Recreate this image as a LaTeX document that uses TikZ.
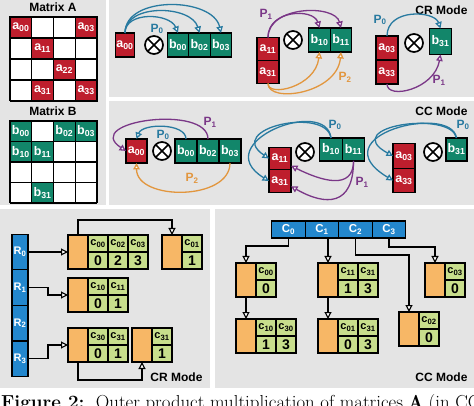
\documentclass[tikz,border=0pt]{standalone}
\usepackage{fontspec}
\newfontfamily\figfont{Liberation Sans}
\usetikzlibrary{arrows.meta, calc, positioning}

\definecolor{panelgray}{RGB}{228,228,228}
\definecolor{cellred}{RGB}{190,30,45}
\definecolor{cellteal}{RGB}{18,134,106}
\definecolor{arcblue}{RGB}{40,122,160}
\definecolor{arcpurple}{RGB}{122,55,135}
\definecolor{arcorange}{RGB}{226,150,62}
\definecolor{listblue}{RGB}{35,135,205}
\definecolor{ptrorange}{RGB}{247,183,102}
\definecolor{valgreen}{RGB}{200,222,140}

\tikzset{
	box/.style={draw, line width=1.1pt, inner sep=0pt, outer sep=0pt},
	acell/.style={box, fill=cellred, text=white, minimum width=22pt, minimum height=23pt, font=\figfont\bfseries\fontsize{12.5}{13}\selectfont},
	bcell/.style={box, fill=cellteal, text=white, minimum width=21.5pt, minimum height=24pt, font=\figfont\bfseries\fontsize{12.5}{13}\selectfont},
	mcell/.style={box, text=white, minimum width=21.75pt, minimum height=21pt, font=\figfont\bfseries\fontsize{12.5}{13}\selectfont},
	prodsym/.style={circle, draw, line width=1.7pt, fill=white, minimum size=18pt, inner sep=0pt,
		path picture={\draw[line width=1.7pt] (path picture bounding box.north west) -- (path picture bounding box.south east)
			(path picture bounding box.north east) -- (path picture bounding box.south west);}},
	p0arc/.style={draw=arcblue, line width=1.3pt, -{Triangle[fill=white, width=6.5pt, length=6.5pt]}},
	p1arc/.style={p0arc, draw=arcpurple},
	p2arc/.style={p0arc, draw=arcorange},
	plabel/.style={font=\figfont\bfseries\fontsize{12}{13}\selectfont},
	modelabel/.style={anchor=east, font=\figfont\bfseries\fontsize{12}{14}\selectfont},
	obox/.style={box, fill=ptrorange, minimum width=20pt, minimum height=34pt},
	gtop/.style={box, fill=valgreen, minimum width=20pt, minimum height=17pt, font=\figfont\bfseries\fontsize{11}{12}\selectfont},
	gbot/.style={gtop, font=\figfont\bfseries\fontsize{14}{15}\selectfont},
	rcell/.style={box, fill=listblue, text=white, minimum width=16pt, minimum height=35.6pt, font=\figfont\bfseries\fontsize{11}{12}\selectfont},
	hcell/.style={box, fill=listblue, text=white, minimum width=33.5pt, minimum height=17pt, font=\figfont\bfseries\fontsize{11.5}{12}\selectfont},
	lnk/.style={draw, line width=1.1pt, -{Triangle[fill=white, width=7pt, length=7pt]}}
}

\newcommand{\listnode}[3]{%
	\node[obox, anchor=north west] (#1) at (#2) {};
	\foreach \lab/\val [count=\i] in {#3} {
		\node[gtop, anchor=north west] (#1t\i) at ($(#1.north east)+(20*\i-20,0)$) {c\textsubscript{\lab}};
		\node[gbot, anchor=north west] (#1b\i) at ($(#1.north east)+(20*\i-20,17)$) {\val};
	}
}

\begin{document}
\begin{tikzpicture}[x=1pt, y=-1pt]
			\fill[white] (0,0) rectangle (474,406);
			\useasboundingbox (0,0) rectangle (474,406);

			\begin{scope}[fill=panelgray]
				\fill (0,0) rectangle (106,205);
				\fill (109,0) rectangle (474,97);
				\fill (109,101) rectangle (474,205);
				\fill (0,209) rectangle (210,388);
				\fill (215,209) rectangle (474,388);
			\end{scope}

			% matrices
			\node[font=\figfont\bfseries\fontsize{12}{14}\selectfont] (titleA) at (53,7) {Matrix A};
			\fill[white] (10,17) rectangle (97,101);
			\foreach \r/\c in {0/0, 0/3, 1/1, 2/2, 3/1, 3/3}
				\node[mcell, fill=cellred] (ma\r\c) at (20.875+21.75*\c, 27.5+21*\r) {a\textsubscript{\r\c}};
			\foreach \i in {0,...,4} {
				\draw[line width=1.1pt] (10+21.75*\i,17) -- (10+21.75*\i,101);
				\draw[line width=1.1pt] (10,17+21*\i) -- (97,17+21*\i);
			}

			\node[font=\figfont\bfseries\fontsize{12}{14}\selectfont] (titleB) at (53,111) {Matrix B};
			\fill[white] (10,121) rectangle (97,203);
			\foreach \r/\c in {0/0, 0/2, 0/3, 1/0, 1/1, 3/1}
				\node[mcell, fill=cellteal, minimum height=20.5pt] (mb\r\c) at (20.875+21.75*\c, 131.25+20.5*\r) {b\textsubscript{\r\c}};
			\foreach \i in {0,...,4} {
				\draw[line width=1.1pt] (10+21.75*\i,121) -- (10+21.75*\i,203);
				\draw[line width=1.1pt] (10,121+20.5*\i) -- (97,121+20.5*\i);
			}

			% CR mode
			\node[modelabel] (crmode) at (471,10) {CR Mode};

			\node[acell, minimum width=19pt, minimum height=24pt] (cr-a00) at (125,45) {a\textsubscript{00}};
			\node[prodsym] (cr-x1) at (154,45) {};
			\node[bcell] (cr-b00) at (178,45) {b\textsubscript{00}};
			\node[bcell, right=0pt of cr-b00] (cr-b02) {b\textsubscript{02}};
			\node[bcell, right=0pt of cr-b02] (cr-b03) {b\textsubscript{03}};
			\draw[p0arc] (cr-a00.north) .. controls +(0,-22) and +(-8,-20) .. (cr-b00.north);
			\draw[p0arc] (cr-a00.north) .. controls +(0,-30) and +(-8,-28) .. (cr-b02.north);
			\draw[p0arc] (cr-a00.north) .. controls +(0,-38) and +(-8,-36) .. (cr-b03.north);
			\node[plabel, text=arcblue] (cr-p0a) at (157,29) {P\textsubscript{0}};

			\node[acell] (cr-a11) at (268,49) {a\textsubscript{11}};
			\node[acell, below=0pt of cr-a11] (cr-a31) {a\textsubscript{31}};
			\node[prodsym] (cr-x2) at (293,40) {};
			\node[bcell] (cr-b10) at (319.5,40) {b\textsubscript{10}};
			\node[bcell, right=0pt of cr-b10] (cr-b11) {b\textsubscript{11}};
			\draw[p1arc] (cr-a11.north) .. controls +(0,-28) and +(-6,-20) .. (cr-b10.north);
			\draw[p1arc] (cr-a11.north) .. controls +(0,-32) and +(-6,-24) .. (cr-b11.north);
			\draw[p2arc] (cr-a31.south) .. controls +(0,14) and +(-4,35) .. (cr-b10.south);
			\draw[p2arc] (cr-a31.south) .. controls +(0,20) and +(-4,42) .. (cr-b11.south);
			\node[plabel, text=arcpurple] (cr-p1a) at (266,14) {P\textsubscript{1}};
			\node[plabel, text=arcorange] (cr-p2) at (345,77) {P\textsubscript{2}};

			\node[acell, minimum height=24pt] (cr-a03) at (387,48) {a\textsubscript{03}};
			\node[acell, minimum height=24pt, below=0pt of cr-a03] (cr-a33) {a\textsubscript{33}};
			\node[prodsym] (cr-x3) at (414,43) {};
			\node[bcell, minimum width=22pt, minimum height=26pt] (cr-b31) at (440.5,41.5) {b\textsubscript{31}};
			\draw[p0arc] (cr-a03.north) .. controls +(0,-28) and +(-6,-18) .. (cr-b31.north);
			\draw[p1arc] (cr-a33.south) .. controls +(0,16) and +(-6,35) .. (cr-b31.south);
			\node[plabel, text=arcblue] (cr-p0b) at (380,20) {P\textsubscript{0}};
			\node[plabel, text=arcpurple] (cr-p1b) at (439,80) {P\textsubscript{1}};

			% CC mode
			\node[modelabel] (ccmode) at (471,111) {CC Mode};

			\node[acell, minimum width=21pt, minimum height=24pt] (cc-a00) at (136.5,151) {a\textsubscript{00}};
			\node[prodsym] (cc-x1) at (162,151) {};
			\node[bcell, minimum width=22pt] (cc-b00) at (186,151) {b\textsubscript{00}};
			\node[bcell, minimum width=22pt, right=0pt of cc-b00] (cc-b02) {b\textsubscript{02}};
			\node[bcell, minimum width=22pt, right=0pt of cc-b02] (cc-b03) {b\textsubscript{03}};
			\draw[p0arc] (cc-b00.north) .. controls +(0,-16) and +(6,-16) .. (cc-a00.north);
			\draw[p1arc] (cc-b02.north) .. controls +(0,-35) and +(-45,-30) .. (cc-a00.west);
			\draw[p2arc] (cc-b03.south) .. controls +(0,38) and +(0,38) .. (cc-a00.south);
			\node[plabel, text=arcblue] (cc-p0a) at (163,135) {P\textsubscript{0}};
			\node[plabel, text=arcpurple] (cc-p1a) at (210,122) {P\textsubscript{1}};
			\node[plabel, text=arcorange] (cc-p2) at (192,178) {P\textsubscript{2}};

			\node[acell, minimum height=22.5pt] (cc-a11) at (280,158.5) {a\textsubscript{11}};
			\node[acell, minimum height=22.5pt, below=0pt of cc-a11] (cc-a31) {a\textsubscript{31}};
			\node[prodsym] (cc-x2) at (305,152) {};
			\node[bcell, minimum width=22.5pt, minimum height=23pt] (cc-b10) at (331,149.5) {b\textsubscript{10}};
			\node[bcell, minimum width=22.5pt, minimum height=23pt, right=0pt of cc-b10] (cc-b11) {b\textsubscript{11}};
			\draw[p0arc] (cc-b10.north) .. controls +(-5,-32) and +(-45,-30) .. (cc-a11.west);
			\draw[p0arc] (cc-b10.north) .. controls +(-5,-42) and +(-62,-38) .. (cc-a31.west);
			\draw[p1arc] (cc-b11.south) .. controls +(0,30) and +(30,15) .. ($(cc-a11.south east)+(0,-4)$);
			\draw[p1arc] (cc-b11.south) .. controls +(0,45) and +(35,20) .. ($(cc-a31.south east)+(0,-6)$);
			\node[plabel, text=arcblue] (cc-p0b) at (335,125) {P\textsubscript{0}};
			\node[plabel, text=arcpurple] (cc-p1b) at (362,182) {P\textsubscript{1}};

			\node[acell, minimum height=24.5pt] (cc-a03) at (404,156) {a\textsubscript{03}};
			\node[acell, minimum height=24.5pt, below=0pt of cc-a03] (cc-a33) {a\textsubscript{33}};
			\node[prodsym] (cc-x3) at (433,152) {};
			\node[bcell, minimum width=21pt, minimum height=23pt] (cc-b31) at (456.5,149.5) {b\textsubscript{31}};
			\draw[p0arc] (cc-b31.north) .. controls +(-5,-28) and +(-55,-30) .. (cc-a03.west);
			\draw[p0arc] (cc-b31.north) .. controls +(-5,-35) and +(-75,-45) .. (cc-a33.west);
			\node[plabel, text=arcblue] (cc-p0c) at (463,125) {P\textsubscript{0}};

			% CR mode lists
			\foreach \i in {0,...,3}
				\node[rcell] (R\i) at (20,252+35.6*\i) {R\textsubscript{\i}};
			\listnode{r0}{68,235}{00/0, 02/2, 03/3}
			\listnode{r0b}{162,235}{01/1}
			\listnode{r1}{68,278}{10/0, 11/1}
			\listnode{r3}{68,328}{30/0, 31/1}
			\listnode{r3b}{132,328}{31/1}
			\draw[lnk] (R0.east) -- (r0.west);
			\draw[lnk] (R1.east) -- ++(20,0) |- (r1.west);
			\draw[lnk] (R3.east) -- ++(20,0) |- (r3.west);
			\draw[lnk] (r0.north) -- ++(0,-15) -| (r0b.north);
			\draw[lnk] (r3.south) -- ++(0,18) -| (r3b.south);
			\node[modelabel] (crmode2) at (206,377) {CR Mode};

			% CC mode lists
			\foreach \i in {0,...,3}
				\node[hcell] (C\i) at (288.5+33.5*\i,229.5) {C\textsubscript{\i}};
			\listnode{k0}{236,263}{00/0}
			\listnode{k1}{236,319}{10/1, 30/3}
			\listnode{k2}{318,263}{11/1, 31/3}
			\listnode{k3}{318,319}{01/0, 31/3}
			\listnode{k4}{399,312}{02/0}
			\listnode{k5}{425,263}{03/0}
			\draw[lnk] (C0.south) -- ++(0,8) -| (k0.north);
			\draw[lnk] (k0.south) -- (k1.north);
			\draw[lnk] (k2.north |- C1.south) -- (k2.north);
			\draw[lnk] (k2.south) -- (k3.north);
			\draw[lnk] (C2.south) -- ++(0,17) -| (k4.north);
			\draw[lnk] (C3.south) -- ++(0,9) -| (k5.north);
			\node[modelabel] (ccmode2) at (471,377) {CC Mode};

			\node[anchor=base west, inner sep=0pt, font=\fontsize{18.8}{22}\selectfont] (caption) at (1,408)
				{\textbf{Figure 2:}\ \ Outer product multiplication of matrices $\mathbf{A}$ (in CC)};
		\end{tikzpicture}
\end{document}
